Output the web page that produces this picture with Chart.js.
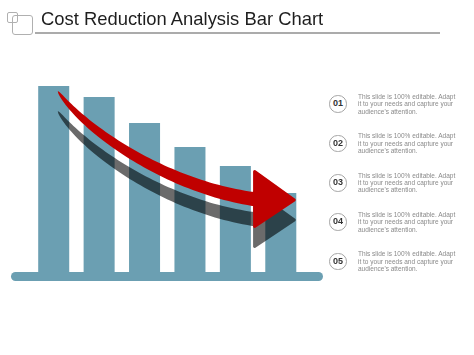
<!DOCTYPE html>
<html>
<head>
<meta charset="utf-8">
<script src="https://cdn.jsdelivr.net/npm/chart.js@4/dist/chart.umd.min.js"></script>
<style>
  html, body { margin: 0; padding: 0; background: #fff; overflow: hidden; }
  #wrap { position: relative; width: 474px; height: 355px; font-family: "Liberation Sans", Arial, sans-serif; }
  #chart { position: absolute; left: 0; top: 0; }
  .title { position: absolute; left: 41px; top: 10px; font-size: 18.4px; line-height: 18px; color: #1e1e1e; white-space: nowrap; }
  .rule { position: absolute; left: 35px; top: 31.5px; width: 405px; height: 2.5px; background: #ababab; }
  .sq { position: absolute; border: 1.6px solid #b0b0b0; box-sizing: border-box; }
  .badge { position: absolute; width: 17.5px; height: 17.5px; border: 1.5px solid #a4a4a4; border-radius: 50%; box-sizing: border-box;
           font-size: 9px; font-weight: bold; color: #333; text-align: center; line-height: 14.5px; background: #fff; }
  .txt { position: absolute; font-size: 6.5px; line-height: 7.4px; color: #8a8a8a; white-space: nowrap; }
</style>
</head>
<body>
<div id="wrap">
  <canvas id="chart" width="474" height="355"></canvas>
  <div class="sq" style="left:7px;top:12px;width:11px;height:11px;border-radius:2px;"></div>
  <div class="sq" style="left:12px;top:15px;width:21px;height:20px;border-radius:3px;"></div>
  <div class="title">Cost Reduction Analysis Bar Chart</div>
  <div class="rule"></div>
  <div id="notes"></div>
</div>
<script>
// Bars: cost per period (arbitrary units, axis 0-100)
const categories = ['P1', 'P2', 'P3', 'P4', 'P5', 'P6'];
const costValues = [93, 87.5, 74.5, 62.5, 53, 39.5];

// Downward trend arrow, in data units (x = category index, y = value)
const arrowCurveX = [0.09, 0.577, 2.339, 4.39];   // cubic bezier: start, ctrl1, ctrl2, end
const arrowCurveY = [90.5, 73.5, 43.5, 36.5];
const arrowHeadX = [4.39, 5.33, 4.39];            // head: top, tip, bottom
const arrowHeadY = [51, 36, 22];
const shadowDrop = 10;                             // shadow sits this many units lower

// Side notes
const noteNumbers = ['01', '02', '03', '04', '05'];
const noteLines = ['This slide is 100% editable. Adapt', 'it to your needs and capture your', "audience's attention."];

// build notes list
const notes = document.getElementById('notes');
noteNumbers.forEach((n, i) => {
  const cy = 104 + i * 39.4;
  const b = document.createElement('div');
  b.className = 'badge';
  b.style.left = (338 - 8.75) + 'px';
  b.style.top = (cy - 8.75) + 'px';
  b.textContent = n;
  notes.appendChild(b);
  const t = document.createElement('div');
  t.className = 'txt';
  t.style.left = '358px';
  t.style.top = (cy - 11.2) + 'px';
  t.innerHTML = noteLines.join('<br>');
  notes.appendChild(t);
});

const BAR_COLOR = '#6b9fb2';

const decorations = {
  id: 'decorations',
  beforeDatasetsDraw(chart) {
    // rounded base line under the bars
    const { ctx, chartArea } = chart;
    const y0 = chart.scales.y.getPixelForValue(0);
    ctx.save();
    ctx.strokeStyle = BAR_COLOR;
    ctx.lineWidth = 9;
    ctx.lineCap = 'round';
    ctx.beginPath();
    ctx.moveTo(chartArea.left - 15.5, y0 + 4.5);
    ctx.lineTo(chartArea.right + 15, y0 + 4.5);
    ctx.stroke();
    ctx.restore();
  },
  afterDatasetsDraw(chart) {
    const { ctx } = chart;
    const xs = chart.scales.x, ys = chart.scales.y;
    const dyPx = ys.getPixelForValue(0) - ys.getPixelForValue(shadowDrop);

    function tracePath(c, off) {
      const P = arrowCurveX.map((v, i) => [xs.getPixelForValue(v), ys.getPixelForValue(arrowCurveY[i]) + off]);
      const N = 60, up = [], lo = [];
      for (let k = 0; k <= N; k++) {
        const t = k / N, u = 1 - t;
        const x = u*u*u*P[0][0] + 3*u*u*t*P[1][0] + 3*u*t*t*P[2][0] + t*t*t*P[3][0];
        const y = u*u*u*P[0][1] + 3*u*u*t*P[1][1] + 3*u*t*t*P[2][1] + t*t*t*P[3][1];
        const dx = 3*u*u*(P[1][0]-P[0][0]) + 6*u*t*(P[2][0]-P[1][0]) + 3*t*t*(P[3][0]-P[2][0]);
        const dy = 3*u*u*(P[1][1]-P[0][1]) + 6*u*t*(P[2][1]-P[1][1]) + 3*t*t*(P[3][1]-P[2][1]);
        const len = Math.hypot(dx, dy) || 1;
        const nx = -dy / len, ny = dx / len;
        const h = 7 * Math.pow(t, 0.5);
        up.push([x + nx * h, y + ny * h]);
        lo.push([x - nx * h, y - ny * h]);
      }
      c.beginPath();
      c.moveTo(up[0][0], up[0][1]);
      for (let k = 1; k < up.length; k++) c.lineTo(up[k][0], up[k][1]);
      c.lineTo(up[up.length - 1][0] + 2, up[up.length - 1][1]);
      c.lineTo(lo[lo.length - 1][0] + 2, lo[lo.length - 1][1]);
      for (let k = lo.length - 1; k >= 0; k--) c.lineTo(lo[k][0], lo[k][1]);
      c.closePath();
      c.fill();
      // head
      c.beginPath();
      arrowHeadX.forEach((v, i) => {
        const px = xs.getPixelForValue(v), py = ys.getPixelForValue(arrowHeadY[i]) + off;
        if (i === 0) c.moveTo(px + 1.5, py + 1.5); else if (i === 1) c.lineTo(px - 1.5, py); else c.lineTo(px + 1.5, py - 1.5);
      });
      c.closePath();
      c.fill();
      c.stroke();
    }

    // shadow: drawn opaque on a layer, then composited once with alpha
    const off = document.createElement('canvas');
    off.width = chart.canvas.width; off.height = chart.canvas.height;
    const oc = off.getContext('2d');
    const r = chart.currentDevicePixelRatio || 1;
    oc.setTransform(r, 0, 0, r, 0, 0);
    oc.fillStyle = '#000'; oc.strokeStyle = '#000';
    oc.lineWidth = 3; oc.lineJoin = 'round';
    tracePath(oc, dyPx);
    ctx.save();
    ctx.globalAlpha = 0.58;
    ctx.drawImage(off, 0, 0, chart.width, chart.height);
    ctx.restore();

    // red arrow
    ctx.save();
    ctx.fillStyle = '#c00000'; ctx.strokeStyle = '#c00000';
    ctx.lineWidth = 3; ctx.lineJoin = 'round';
    tracePath(ctx, 0);
    ctx.restore();
  }
};

new Chart(document.getElementById('chart'), {
  type: 'bar',
  data: {
    labels: categories,
    datasets: [{
      data: costValues,
      backgroundColor: BAR_COLOR,
      borderWidth: 0,
      barPercentage: 0.683,
      categoryPercentage: 1
    }]
  },
  options: {
    responsive: false,
    animation: false,
    events: [],
    layout: { padding: { left: 31, right: 170.5, top: 72, bottom: 83 } },
    scales: {
      x: { display: false, offset: true },
      y: { display: false, min: 0, max: 100 }
    },
    plugins: { legend: { display: false }, tooltip: { enabled: false }, title: { display: false } }
  },
  plugins: [decorations]
});
</script>
</body>
</html>
